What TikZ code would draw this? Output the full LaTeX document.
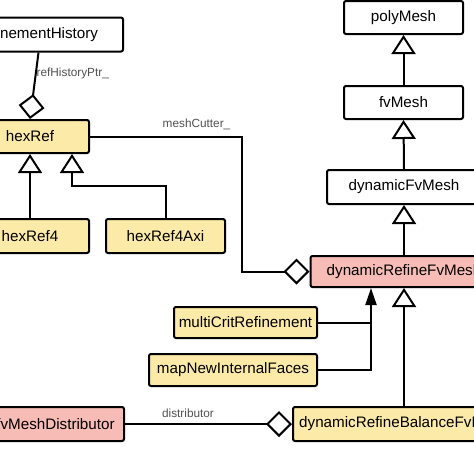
\documentclass[tikz,border=0pt]{standalone}
\usepackage{fontspec}
\setmainfont{Liberation Sans}
\usepackage{xcolor}
\usetikzlibrary{arrows.meta}
\definecolor{clsyellow}{RGB}{252,234,168}
\definecolor{clspink}{RGB}{248,188,182}
\definecolor{lblgray}{RGB}{80,80,80}

\tikzset{
  cls/.style={draw, line width=2pt, rounded corners=2pt, inner sep=0pt,
    minimum height=34pt, font=\fontsize{15.2}{18}\selectfont},
  plain/.style={cls, fill=white},
  refine/.style={cls, fill=clsyellow},
  core/.style={cls, fill=clspink},
  rolelbl/.style={text=lblgray, inner sep=0pt, font=\fontsize{11.8}{14}\selectfont},
  link/.style={line width=2pt},
  inherit/.style={link, -{Triangle[length=19pt,width=24pt,fill=white]}},
  depend/.style={link, -{Triangle[length=17pt,width=11pt]}},
  aggr/.style={link, {Diamond[length=25pt,width=26pt,fill=white]}-}
}

\begin{document}
\begin{tikzpicture}[x=1pt,y=-1pt]
    \useasboundingbox (0,0) rectangle (474,474);
    \clip (0,0) rectangle (474,474);

    % class boxes
    \node[plain, minimum width=169pt] (refHist) at (38.5,34.5) {refinementHistory};
    \node[refine, minimum width=118pt, minimum height=33pt] (hexRef) at (30,136.5) {hexRef};
    \node[refine, minimum width=118pt] (hexRef4) at (30,236) {hexRef4};
    \node[refine, minimum width=119pt] (hexRef4Axi) at (165.5,236) {hexRef4Axi};

    \node[plain, minimum width=119pt, minimum height=33pt] (polyMesh) at (403.5,17.5) {polyMesh};
    \node[plain, minimum width=119pt, minimum height=33pt] (fvMesh) at (403.5,102.5) {fvMesh};
    \node[plain, minimum width=154pt] (dynFv) at (404,187) {dynamicFvMesh};
    \node[core, minimum width=187pt, minimum height=31pt] (dynRef) at (404,271.5) {dynamicRefineFvMesh};
    \node[refine, minimum width=222pt] (dynBal) at (404,424) {dynamicRefineBalanceFvMesh};

    \node[refine, minimum width=143pt, minimum height=31pt] (multiCrit) at (245.5,322.5) {multiCritRefinement};
    \node[refine, minimum width=168pt, minimum height=32pt] (mapNew) at (233,370) {mapNewInternalFaces};
    \node[core, minimum width=137pt] (distrib) at (55.5,424) {fvMeshDistributor};

    % bends
    \coordinate (axiBend) at (72,186);
    \coordinate (cutBend) at (242,271.5);
    \coordinate (depJoin) at (371,370);

    % hexRef side
    \draw[aggr] (hexRef.north) -- (refHist.south);
    \node[rolelbl, anchor=west] (histLbl) at (36.5,73) {refHistoryPtr\_};
    \draw[inherit] (hexRef4.north) -- (hexRef.south);
    \draw[inherit] (hexRef4Axi.north) |- (axiBend) -- (axiBend |- hexRef.south);
    \draw[link, -{Diamond[length=26pt,width=26pt,fill=white]}] (hexRef.east) -| (cutBend) -- (dynRef.west);
    \node[rolelbl] (cutLbl) at (196.5,124) {meshCutter\_};

    % mesh hierarchy
    \draw[inherit] (fvMesh.north) -- (polyMesh.south);
    \draw[inherit] (dynFv.north) -- (fvMesh.south);
    \draw[inherit] (dynRef.north) -- (dynFv.south);
    \draw[inherit] (dynBal.north) -- (dynRef.south);

    % helpers
    \draw[link] (multiCrit.east) -- (multiCrit.east -| depJoin);
    \draw[depend] (mapNew.east) -| (depJoin) -- (depJoin |- dynRef.south);

    % distributor
    \draw[link, -{Diamond[length=26pt,width=26pt,fill=white]}] (distrib.east) -- (dynBal.west);
    \node[rolelbl] (distLbl) at (188,413) {distributor};
\end{tikzpicture}
\end{document}
